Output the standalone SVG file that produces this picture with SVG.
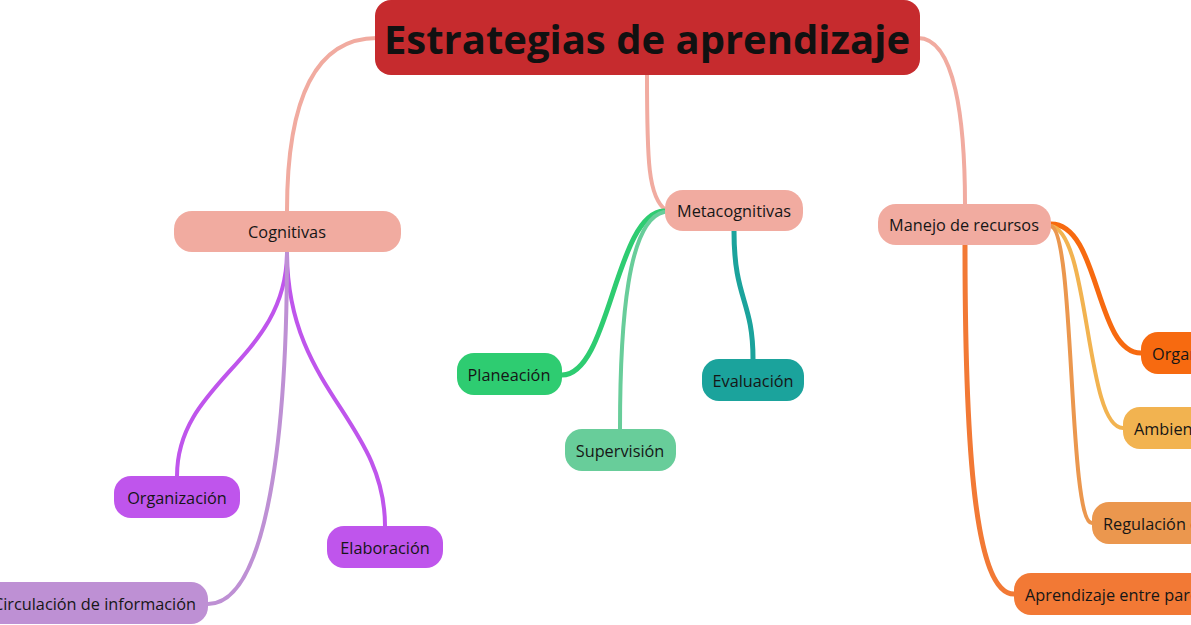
<svg xmlns="http://www.w3.org/2000/svg" width="1191" height="625" viewBox="0 0 1191 625">
<style>
.t{font-family:"Open Sans","Noto Sans","Liberation Sans",sans-serif;font-size:16.3px;fill:#161616;text-anchor:middle;dominant-baseline:central}
.title{font-family:"Open Sans","Noto Sans","Liberation Sans",sans-serif;font-size:40px;font-weight:bold;fill:#111;text-anchor:middle;dominant-baseline:central}
.c{fill:none;stroke-linecap:round}
</style>
<rect width="1191" height="625" fill="#fff"/>
<g id="connectors">
<path class="c" d="M377,38 C305,38 287,120 287,211" stroke="#F1ABA0" stroke-width="4"/>
<path class="c" d="M647,75 C647,160 648,198 666,210" stroke="#F1ABA0" stroke-width="4"/>
<path class="c" d="M918,38 C955,38 965,120 965,205" stroke="#F1ABA0" stroke-width="4"/>
<path class="c" d="M287,252 C287,360 177,380 177,476" stroke="#BF55EC" stroke-width="4"/>
<path class="c" d="M287,252 C287,390 385,420 385,526" stroke="#BF55EC" stroke-width="4"/>
<path class="c" d="M287,252 C287,460 262,604 208,604" stroke="#BE90D4" stroke-width="4"/>
<path class="c" d="M664,211 C615,213 610,375 562,375" stroke="#2ECC71" stroke-width="5"/>
<path class="c" d="M664,212 C628,220 620,320 620,429" stroke="#68CD9A" stroke-width="4"/>
<path class="c" d="M734,231 C734,300 753,300 753,359" stroke="#1BA39C" stroke-width="5"/>
<path class="c" d="M1051,224 C1100,224 1095,353 1141,353" stroke="#F76A10" stroke-width="5"/>
<path class="c" d="M1051,226 C1090,232 1085,428 1123,428" stroke="#F2B350" stroke-width="4"/>
<path class="c" d="M1051,226 C1075,232 1068,523 1092,523" stroke="#EB974E" stroke-width="4"/>
<path class="c" d="M965,245 C965,450 975,594 1014,594" stroke="#F27935" stroke-width="5"/>
</g>
<g id="n-root"><rect x="375" y="0" width="545" height="75" rx="16" fill="#C62B2E"/><text class="title" x="647" y="38">Estrategias de aprendizaje</text></g>
<g id="n-cognitivas"><rect x="174" y="211" width="227" height="41" rx="18" fill="#F1ABA0"/><text class="t" x="287" y="232">Cognitivas</text></g>
<g id="n-metacognitivas"><rect x="665" y="190" width="138" height="41" rx="18" fill="#F1ABA0"/><text class="t" x="734" y="211">Metacognitivas</text></g>
<g id="n-manejo"><rect x="878" y="204" width="173" height="41" rx="18" fill="#F1ABA0"/><text class="t" x="964" y="225">Manejo de recursos</text></g>
<g id="n-organizacion"><rect x="114" y="476" width="126" height="42" rx="17" fill="#BF55EC"/><text class="t" x="177" y="498">Organización</text></g>
<g id="n-elaboracion"><rect x="327" y="526" width="116" height="42" rx="17" fill="#BF55EC"/><text class="t" x="385" y="548">Elaboración</text></g>
<g id="n-circulacion"><rect x="-30" y="582" width="238" height="42" rx="17" fill="#BE90D4"/><text class="t" x="196" y="604" style="text-anchor:end">Circulación de información</text></g>
<g id="n-planeacion"><rect x="457" y="353" width="105" height="42" rx="17" fill="#2ECC71"/><text class="t" x="509" y="375">Planeación</text></g>
<g id="n-supervision"><rect x="565" y="429" width="111" height="42" rx="17" fill="#68CD9A"/><text class="t" x="620" y="451">Supervisión</text></g>
<g id="n-evaluacion"><rect x="702" y="359" width="102" height="42" rx="17" fill="#1BA39C"/><text class="t" x="753" y="381">Evaluación</text></g>
<g id="n-orgtiempo"><rect x="1141" y="332" width="200" height="42" rx="17" fill="#F76A10"/><text class="t" x="1152" y="354" style="text-anchor:start">Organización del tiempo</text></g>
<g id="n-ambiente"><rect x="1123" y="407" width="200" height="42" rx="17" fill="#F2B350"/><text class="t" x="1134" y="429" style="text-anchor:start">Ambiente de estudio</text></g>
<g id="n-regulacion"><rect x="1092" y="502" width="220" height="42" rx="17" fill="#EB974E"/><text class="t" x="1103" y="524" style="text-anchor:start">Regulación del esfuerzo</text></g>
<g id="n-aprendizaje"><rect x="1014" y="573" width="240" height="42" rx="17" fill="#F27935"/><text class="t" x="1025" y="595" style="text-anchor:start">Aprendizaje entre pares</text></g>
</svg>
